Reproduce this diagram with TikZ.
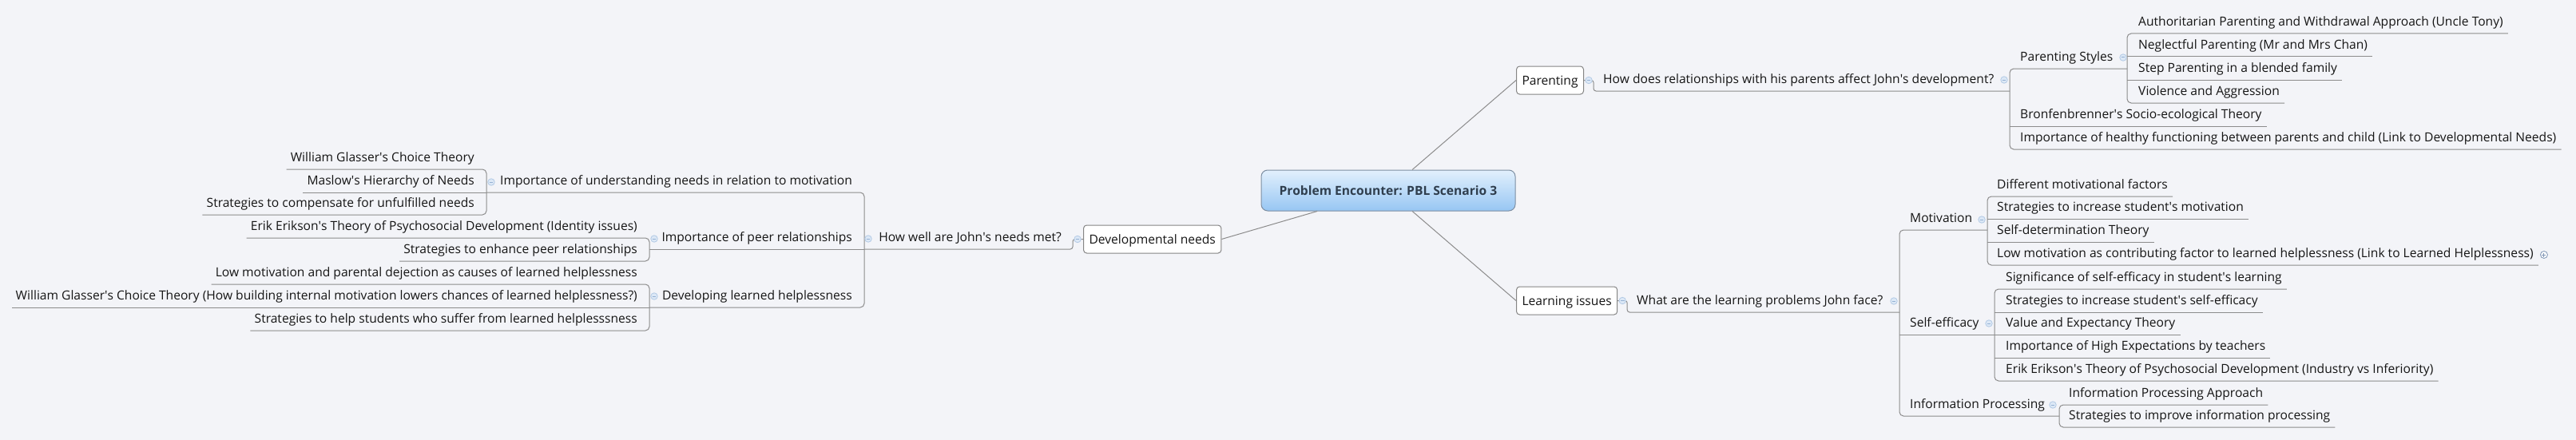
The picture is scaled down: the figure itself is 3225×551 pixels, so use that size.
\documentclass[tikz,border=0pt]{standalone}
\usepackage{fontspec}
\setmainfont{Open Sans}
\usetikzlibrary{calc}
\definecolor{bgc}{HTML}{F3F4F8}
\definecolor{lnc}{HTML}{8C8C8C}
\definecolor{boxc}{HTML}{858585}
\definecolor{txtc}{HTML}{151515}
\definecolor{rootTop}{HTML}{E2F0FD}
\definecolor{rootBot}{HTML}{97C6F3}
\definecolor{rootBd}{HTML}{7C8EA2}
\definecolor{rootTx}{HTML}{2F3E4E}
\definecolor{clFill}{HTML}{DCE8F6}
\definecolor{clDraw}{HTML}{B3CAE5}
\definecolor{clMark}{HTML}{95B1D3}
\definecolor{exDraw}{HTML}{7F95B5}
\newcommand\tfs{\fontsize{15.6pt}{18pt}\selectfont}
\newcommand\ap{\textquotesingle}
\begin{document}
\begin{tikzpicture}[x=1pt,y=-1pt,
 ln/.style={draw=lnc,line width=1pt},
 brk/.style={ln,rounded corners=5pt},
 elb/.style={ln,rounded corners=3pt},
 tp/.style={inner sep=0pt,text height=11pt,text depth=9pt,text=txtc,font=\tfs},
 box/.style={draw=boxc,fill=white,rounded corners=4pt,line width=1pt,inner xsep=7pt,inner ysep=0pt,minimum height=35pt,text height=11pt,text depth=0pt,text=txtc,font=\tfs},
 root/.style={draw=rootBd,top color=rootTop,bottom color=rootBot,rounded corners=8pt,line width=1pt,minimum width=318pt,minimum height=51pt,inner sep=0pt,text height=11.5pt,text depth=0pt,text=rootTx,font=\tfs\bfseries},
 cl/.style={circle,draw=clDraw,fill=clFill,line width=0.8pt,minimum size=8.5pt,inner sep=0pt,
   path picture={\draw[clMark,line width=1pt]([xshift=-2.3pt]path picture bounding box.center)--([xshift=2.3pt]path picture bounding box.center);}},
 ex/.style={circle,draw=exDraw,fill=white,line width=0.8pt,minimum size=9pt,inner sep=0pt,
   path picture={\draw[exDraw,line width=0.9pt]([xshift=-2.5pt]path picture bounding box.center)--([xshift=2.5pt]path picture bounding box.center)([yshift=-2.5pt]path picture bounding box.center)--([yshift=2.5pt]path picture bounding box.center);}},
]
\fill[bgc] (0,0) rectangle (3225,551);
\useasboundingbox (0,0) rectangle (3225,551);

% central and main boxes
\node[root] (root) at (1738,238.5) {Problem Encounter: PBL Scenario 3};
\node[box,anchor=west] (par) at (1898,100.5) {Parenting};
\node[box,anchor=west] (lrn) at (1898,376.5) {Learning issues};
\node[box,anchor=west] (dev) at (1356,299.5) {Developmental needs};

% left side
\node[tp,anchor=south east] (how) at (1329,312) {How well are John\ap s needs met?};
\node[tp,anchor=south east] (imp) at (1067,241) {Importance of understanding needs in relation to motivation};
\node[tp,anchor=south east] (peer) at (1067,312) {Importance of peer relationships};
\node[tp,anchor=south east] (help) at (1067,385) {Developing learned helplessness};
\node[tp,anchor=south east] (l1) at (594,212) {William Glasser\ap s Choice Theory};
\node[tp,anchor=south east] (l2) at (594,241) {Maslow\ap s Hierarchy of Needs};
\node[tp,anchor=south east] (l3) at (594,269) {Strategies to compensate for unfulfilled needs};
\node[tp,anchor=south east] (l4) at (798,298) {Erik Erikson\ap s Theory of Psychosocial Development (Identity issues)};
\node[tp,anchor=south east] (l5) at (798,327) {Strategies to enhance peer relationships};
\node[tp,anchor=south east] (l6) at (798,356) {Low motivation and parental dejection as causes of learned helplessness};
\node[tp,anchor=south east] (l7) at (798,385) {William Glasser\ap s Choice Theory (How building internal motivation lowers chances of learned helplessness?)};
\node[tp,anchor=south east] (l8) at (798,414) {Strategies to help students who suffer from learned helplesssness};

% right side: parenting
\node[tp,anchor=south west] (hd) at (2007,114) {How does relationships with his parents affect John\ap s development?};
\node[tp,anchor=south west] (ps) at (2529,86) {Parenting Styles};
\node[tp,anchor=south west] (bro) at (2529,158) {Bronfenbrenner\ap s Socio-ecological Theory};
\node[tp,anchor=south west] (ihf) at (2529,187) {Importance of healthy functioning between parents and child (Link to Developmental Needs)};
\node[tp,anchor=south west] (p1) at (2677,42) {Authoritarian Parenting and Withdrawal Approach (Uncle Tony)};
\node[tp,anchor=south west] (p2) at (2677,71) {Neglectful Parenting (Mr and Mrs Chan)};
\node[tp,anchor=south west] (p3) at (2677,100) {Step Parenting in a blended family};
\node[tp,anchor=south west] (p4) at (2677,129) {Violence and Aggression};

% right side: learning
\node[tp,anchor=south west] (wa) at (2049,391) {What are the learning problems John face?};
\node[tp,anchor=south west] (mot) at (2391,288) {Motivation};
\node[tp,anchor=south west] (se) at (2391,419) {Self-efficacy};
\node[tp,anchor=south west] (ip) at (2391,521) {Information Processing};
\node[tp,anchor=south west] (m1) at (2500,246) {Different motivational factors};
\node[tp,anchor=south west] (m2) at (2500,274) {Strategies to increase student\ap s motivation};
\node[tp,anchor=south west] (m3) at (2500,303) {Self-determination Theory};
\node[tp,anchor=south west] (m4) at (2500,332) {Low motivation as contributing factor to learned helplessness (Link to Learned Helplessness)};
\node[tp,anchor=south west] (s1) at (2511,362) {Significance of self-efficacy in student\ap s learning};
\node[tp,anchor=south west] (s2) at (2511,391) {Strategies to increase student\ap s self-efficacy};
\node[tp,anchor=south west] (s3) at (2511,419) {Value and Expectancy Theory};
\node[tp,anchor=south west] (s4) at (2511,448) {Importance of High Expectations by teachers};
\node[tp,anchor=south west] (s5) at (2511,477) {Erik Erikson\ap s Theory of Psychosocial Development (Industry vs Inferiority)};
\node[tp,anchor=south west] (i1) at (2590,507) {Information Processing Approach};
\node[tp,anchor=south west] (i2) at (2590,535) {Strategies to improve information processing};

% bracket coordinates
\coordinate (bMas) at (609,241);
\coordinate (bMain) at (1082,312);
\coordinate (bHd) at (2516,114);
\coordinate (bWa) at (2378,391);

% root connectors
\draw[ln] (root) -- (par.west);
\draw[ln] (root) -- (lrn.west);
\draw[ln] (root) -- (dev.east);

% left connectors
\draw[elb] (dev.west) -- ++(-13,0) |- (bMain);
\draw[brk] (bMas) -- (1082,241) -- (1082,385) -- (813,385);
\draw[ln] (813,312) -- (bMain);
\draw[brk] ([xshift=-5pt]l1.south west) -- (609,212) -- (609,269) -- ([xshift=-5pt]l3.south west);
\draw[ln] (bMas) -- ([xshift=-5pt]l2.south west);
\draw[brk] ([xshift=-5pt]l4.south west) -- (813,298) -- (813,327) -- ([xshift=-5pt]l5.south west);
\draw[brk] ([xshift=-5pt]l6.south west) -- (813,356) -- (813,414) -- ([xshift=-5pt]l8.south west);
\draw[ln] (813,385) -- ([xshift=-5pt]l7.south west);

% right connectors: parenting
\draw[elb] (par.east) -- ++(12,0) |- (bHd);
\draw[brk] (2663,86) -- (2516,86) -- (2516,187) -- ([xshift=6pt]ihf.south east);
\draw[ln] (2516,158) -- ([xshift=6pt]bro.south east);
\draw[brk] ([xshift=6pt]p1.south east) -- (2663,42) -- (2663,129) -- ([xshift=6pt]p4.south east);
\draw[ln] (2663,71) -- ([xshift=6pt]p2.south east);
\draw[ln] (2663,100) -- ([xshift=6pt]p3.south east);

% right connectors: learning
\draw[elb] (lrn.east) -- ++(12,0) |- (bWa);
\draw[brk] (2488,288) -- (2378,288) -- (2378,521) -- (2578,521);
\draw[ln] (2378,419) -- (2497,419);
\draw[brk] ([xshift=6pt]m1.south east) -- (2488,246) -- (2488,332) -- ([xshift=6pt]m4.south east);
\draw[ln] (2488,274) -- ([xshift=6pt]m2.south east);
\draw[ln] (2488,303) -- ([xshift=6pt]m3.south east);
\draw[brk] ([xshift=6pt]s1.south east) -- (2497,362) -- (2497,477) -- ([xshift=6pt]s5.south east);
\draw[ln] (2497,391) -- ([xshift=6pt]s2.south east);
\draw[ln] (2497,419) -- ([xshift=6pt]s3.south east);
\draw[ln] (2497,448) -- ([xshift=6pt]s4.south east);
\draw[brk] ([xshift=6pt]i1.south east) -- (2578,507) -- (2578,535) -- ([xshift=6pt]i2.south east);

% collapse markers
\node[cl] (cDev) at ([xshift=-7pt]dev.west) {};
\node[cl] (cPar) at ([xshift=6pt]par.east) {};
\node[cl] (cLrn) at ([xshift=6pt]lrn.east) {};
\node[cl] (cHow) at (1087,299) {};
\node[cl] (cImp) at (615,228) {};
\node[cl] (cPeer) at (819,299) {};
\node[cl] (cHelp) at (819,371) {};
\node[cl] (cHd) at (2509,100) {};
\node[cl] (cPs) at (2658,72) {};
\node[cl] (cWa) at (2371,377) {};
\node[cl] (cMot) at (2481,275) {};
\node[cl] (cSe) at (2490,405) {};
\node[cl] (cIp) at (2570,507) {};
\node[ex] (xM4) at ([xshift=13pt,yshift=13pt]m4.south east) {};
\end{tikzpicture}
\end{document}
